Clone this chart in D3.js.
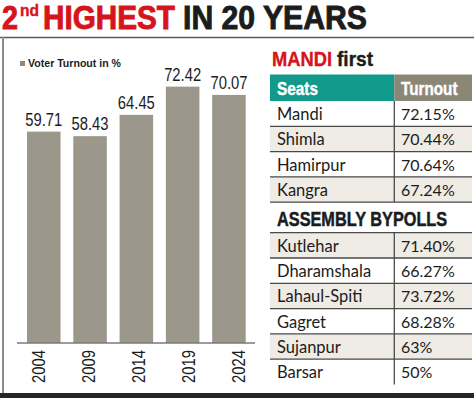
<!DOCTYPE html>
<html>
<head>
<meta charset="utf-8">
<script src="https://cdn.jsdelivr.net/npm/d3@7"></script>
<style>
  html, body { margin: 0; padding: 0; background: #fff; }
  svg { display: block; }
</style>
</head>
<body>
<svg id="chart" width="474" height="398"></svg>
<script>
// ---- data ----
const years = ["2004", "2009", "2014", "2019", "2024"];
const turnout = [59.71, 58.43, 64.45, 72.42, 70.07];
const seats = ["Mandi", "Shimla", "Hamirpur", "Kangra"];
const seatTurnout = ["72.15%", "70.44%", "70.64%", "67.24%"];
const bypolls = ["Kutlehar", "Dharamshala", "Lahaul-Spiti", "Gagret", "Sujanpur", "Barsar"];
const bypollTurnout = ["71.40%", "66.27%", "73.72%", "68.28%", "63%", "50%"];
const legendLabel = "Voter Turnout in %";

// ---- styles ----
const RED = "#d6141c", INK = "#1c1c1c", BAR = "#9b978a";
const TEAL = "#11998b", KHAKI = "#8b8777", BEIGE = "#efebe5";
const NARROW = "'Liberation Sans', Arial, sans-serif";
const BOLD = "'Liberation Sans', Arial, sans-serif";
const BODY = "Lato, 'Noto Sans', sans-serif";

const svg = d3.select("#chart");

// ---- title ----
function fitText(txt, x, y, size, width, color) {
  svg.append("text").attr("x", x).attr("y", y)
    .attr("font-family", BOLD).attr("font-weight", 700)
    .attr("font-size", size).attr("fill", color)
    .attr("stroke", color).attr("stroke-width", size > 25 ? 0.9 : 0.4)
    .attr("textLength", width).attr("lengthAdjust", "spacingAndGlyphs")
    .text(txt);
}
fitText("2", 2, 29, 33, 16, RED);
fitText("nd", 20, 16, 17, 19, RED);
fitText("HIGHEST", 43, 29, 33, 132, RED);
fitText("IN 20 YEARS", 183, 29, 33, 184, INK);

// ---- frame ----
svg.append("line").attr("x1", 0).attr("x2", 474).attr("y1", 37.5).attr("y2", 37.5)
  .attr("stroke", "#5c5c5c").attr("stroke-width", 1.5);
svg.append("line").attr("x1", 3).attr("x2", 3).attr("y1", 37).attr("y2", 393)
  .attr("stroke", "#8c8c8c").attr("stroke-width", 2);
svg.append("rect").attr("x", 0).attr("y", 393).attr("width", 474).attr("height", 5)
  .attr("fill", "#262626");

// ---- bar chart ----
const x = d3.scaleBand().domain(years).range([27, 245.7]).paddingInner(0.276).paddingOuter(0);
const y = d3.scaleLinear().domain([0, 80]).range([343, 343 - 3.54 * 80]);
const xl = d3.scalePoint().domain(years).range([38, 238]);

const bars = svg.append("g");
bars.selectAll("rect").data(turnout).join("rect")
  .attr("x", (d, i) => x(years[i]))
  .attr("y", d => y(d))
  .attr("width", x.bandwidth())
  .attr("height", d => y(0) - y(d))
  .attr("fill", BAR);

bars.selectAll("text").data(turnout).join("text")
  .attr("x", (d, i) => x(years[i]) + x.bandwidth() / 2)
  .attr("y", d => y(d) - 6)
  .attr("text-anchor", "middle")
  .attr("font-family", NARROW).attr("font-size", 18).attr("fill", INK)
  .attr("textLength", 37).attr("lengthAdjust", "spacingAndGlyphs")
  .text(d => d.toFixed(2));

svg.append("line").attr("x1", 17).attr("x2", 255).attr("y1", 343).attr("y2", 343)
  .attr("stroke", "#7a7a7a").attr("stroke-width", 1.5);

const ax = svg.append("g").attr("transform", "translate(0,343)")
  .call(d3.axisBottom(xl).tickSize(0));
ax.select(".domain").remove();
ax.selectAll("text")
  .attr("transform", "rotate(-90)")
  .attr("text-anchor", "end")
  .attr("x", -7).attr("y", 0).attr("dy", "0.35em")
  .attr("font-family", NARROW).attr("font-size", 18).attr("fill", INK)
  .attr("textLength", 33).attr("lengthAdjust", "spacingAndGlyphs");

// legend
svg.append("rect").attr("x", 20).attr("y", 61).attr("width", 5).attr("height", 5).attr("fill", "#8e8a80");
svg.append("text").attr("x", 28).attr("y", 67)
  .attr("font-family", NARROW).attr("font-weight", 700).attr("font-size", 11.5).attr("fill", INK)
  .attr("textLength", 93).attr("lengthAdjust", "spacingAndGlyphs")
  .text(legendLabel);

// ---- tables ----
const TL = 270, TR = 472, TC = 394.3, RH = 25.3;

fitText("MANDI", 272, 66, 21, 60, RED);
fitText("first", 337, 66, 21, 36, INK);

// header
const hTop = 74.5, hBot = 101;
svg.append("rect").attr("x", TL).attr("y", hTop).attr("width", TC - TL).attr("height", hBot - hTop).attr("fill", TEAL);
svg.append("rect").attr("x", TC).attr("y", hTop).attr("width", TR - TC).attr("height", hBot - hTop).attr("fill", KHAKI);
fitText("Seats", 277, 95, 18, 41, "#ffffff");
fitText("Turnout", 401, 95, 18, 56.5, "#ffffff");

function drawTable(names, vals, top, shadeOdd, bottomLine, topLine) {
  const g = svg.append("g");
  const rows = names.map((n, i) => ({ n, v: vals[i], i }));
  g.selectAll("rect").data(rows).join("rect")
    .attr("x", TL).attr("y", d => top + d.i * RH)
    .attr("width", TR - TL).attr("height", RH)
    .attr("fill", d => (d.i % 2 === (shadeOdd ? 1 : 0)) ? BEIGE : "#ffffff");
  const lines = d3.range(topLine ? 0 : 1, names.length + (bottomLine ? 1 : 0));
  g.selectAll("line.h").data(lines).join("line").attr("class", "h")
    .attr("x1", TL).attr("x2", TR)
    .attr("y1", d => top + d * RH).attr("y2", d => top + d * RH)
    .attr("stroke", "#4a4a4a").attr("stroke-width", 1.3);
  g.append("line").attr("x1", TC).attr("x2", TC)
    .attr("y1", top).attr("y2", top + names.length * RH)
    .attr("stroke", "#4a4a4a").attr("stroke-width", 1.3);
  g.selectAll("text.n").data(rows).join("text").attr("class", "n")
    .attr("x", 277).attr("y", d => top + d.i * RH + 19)
    .attr("font-family", BODY).attr("font-size", 16.5).attr("fill", INK)
    .text(d => d.n);
  g.selectAll("text.v").data(rows).join("text").attr("class", "v")
    .attr("x", 401).attr("y", d => top + d.i * RH + 19)
    .attr("font-family", BODY).attr("font-size", 16).attr("fill", INK)
    .text(d => d.v);
}
drawTable(seats, seatTurnout, hBot, true, true, false);

// section heading: natural width fits, stretched vertically to match the tall condensed look
svg.append("text")
  .attr("transform", "translate(277,225.5) scale(1,1.22)")
  .attr("font-family", BOLD).attr("font-weight", 700).attr("font-size", 16.3)
  .attr("fill", INK).attr("stroke", INK).attr("stroke-width", 0.4)
  .text("ASSEMBLY BYPOLLS");
drawTable(bypolls, bypollTurnout, 232.7, false, false, true);
</script>
</body>
</html>
